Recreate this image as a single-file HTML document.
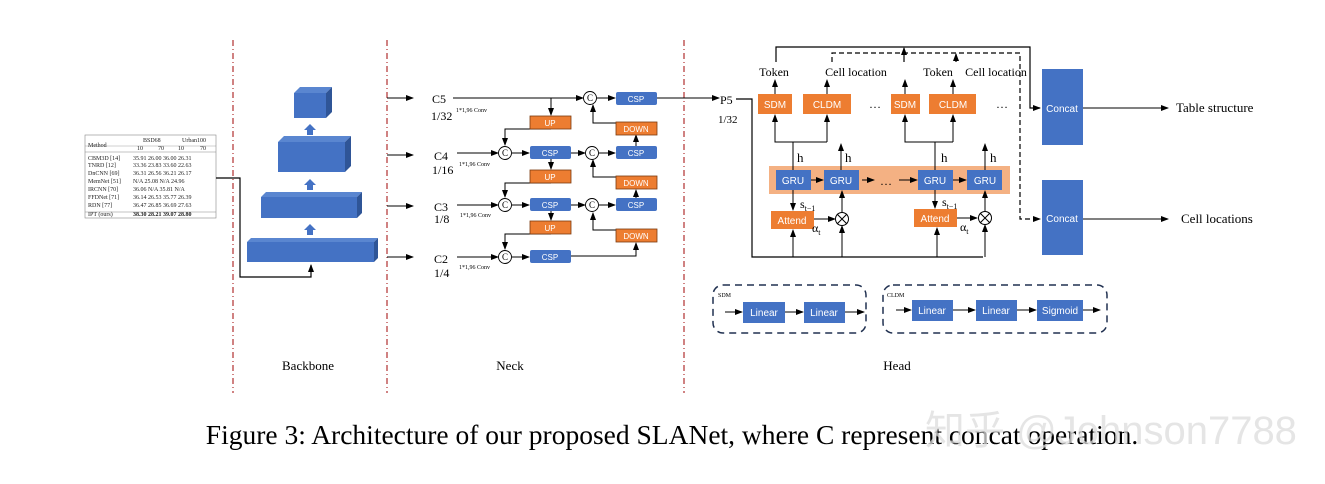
<!DOCTYPE html>
<html><head><meta charset="utf-8"><style>
body{margin:0;background:#fff;}
svg{display:block;font-family:"Liberation Serif","DejaVu Serif",serif;}
.w{fill:#fff;font-family:"Liberation Sans",sans-serif;}
</style></head><body>
<svg width="1325" height="484" viewBox="0 0 1325 484" xmlns="http://www.w3.org/2000/svg">
<defs>
<marker id="a" markerWidth="8" markerHeight="8" refX="7" refY="4" orient="auto" markerUnits="userSpaceOnUse"><path d="M0,1 L8,4 L0,7 z" fill="#000"/></marker>
</defs>
<g stroke="#b03030" stroke-width="1.2" stroke-dasharray="6,3,1,3">
<line x1="233" y1="40" x2="233" y2="393"/><line x1="387" y1="40" x2="387" y2="393"/><line x1="684" y1="40" x2="684" y2="393"/>
</g>
<!-- table -->
<g font-size="6" fill="#222">
<rect x="85" y="135" width="131" height="83" fill="#fff" stroke="#888" stroke-width="0.6"/>
<line x1="85" y1="146" x2="216" y2="146" stroke="#888" stroke-width="0.4"/>
<line x1="85" y1="152" x2="216" y2="152" stroke="#888" stroke-width="0.6"/>
<line x1="85" y1="212" x2="216" y2="212" stroke="#888" stroke-width="0.6"/>
<text x="88" y="147">Method</text><text x="143" y="142">BSD68</text><text x="182" y="142">Urban100</text>
<text x="137" y="150">10</text><text x="158" y="150">70</text><text x="178" y="150">10</text><text x="200" y="150">70</text>
<text x="88" y="160">CBM3D [14]</text><text x="133" y="160">35.91  26.00  36.00  26.31</text>
<text x="88" y="167">TNRD [12]</text><text x="133" y="167">33.36  23.83  33.60  22.63</text>
<text x="88" y="175">DnCNN [69]</text><text x="133" y="175">36.31  26.56  36.21  26.17</text>
<text x="88" y="183">MemNet [51]</text><text x="133" y="183">N/A    25.08  N/A    24.96</text>
<text x="88" y="191">IRCNN [70]</text><text x="133" y="191">36.06  N/A    35.81  N/A</text>
<text x="88" y="199">FFDNet [71]</text><text x="133" y="199">36.14  26.53  35.77  26.39</text>
<text x="88" y="207">RDN [77]</text><text x="133" y="207">36.47  26.85  36.69  27.63</text>
<text x="88" y="216">IPT (ours)</text><text x="133" y="216" font-weight="bold">38.30  28.21  39.07  28.80</text>
</g>
<path d="M216,178 H240 V277 H311 V265" fill="none" stroke="#000" stroke-width="1.2" marker-end="url(#a)"/>
<!-- backbone -->
<g fill="#4472C4">
<path d="M247,242 l4,-4 h127 l-4,4z" fill="#5a86d0"/><path d="M374,242 l4,-4 v20 l-4,4z" fill="#2f5597"/><rect x="247" y="242" width="127" height="20"/>
<path d="M261,197 l5,-5 h96 l-5,5z" fill="#5a86d0"/><path d="M357,197 l5,-5 v21 l-5,5z" fill="#2f5597"/><rect x="261" y="197" width="96" height="21"/>
<path d="M278,142 l6,-6 h67 l-6,6z" fill="#5a86d0"/><path d="M345,142 l6,-6 v30 l-6,6z" fill="#2f5597"/><rect x="278" y="142" width="67" height="30"/>
<path d="M294,93 l6,-6 h32 l-6,6z" fill="#5a86d0"/><path d="M326,93 l6,-6 v25 l-6,6z" fill="#2f5597"/><rect x="294" y="93" width="32" height="25"/>
<path d="M304,130 l6,-6 l6,6 h-3 v5 h-6 v-5z"/><path d="M304,185 l6,-6 l6,6 h-3 v5 h-6 v-5z"/><path d="M304,230 l6,-6 l6,6 h-3 v5 h-6 v-5z"/>
</g>
<!-- neck -->
<g stroke="#000" stroke-width="1" fill="none" marker-end="url(#a)">
<line x1="387" y1="98" x2="413" y2="98"/><line x1="387" y1="155" x2="413" y2="155"/><line x1="387" y1="206" x2="413" y2="206"/><line x1="387" y1="257" x2="413" y2="257"/>
<line x1="453" y1="98" x2="583" y2="98"/><path d="M551,98 V115"/>
<path d="M551,129 H505 V145"/><line x1="457" y1="153" x2="498" y2="153"/><line x1="512" y1="153" x2="529" y2="153"/><line x1="571" y1="153" x2="585" y2="153"/><line x1="599" y1="153" x2="615" y2="153"/>
<path d="M551,159 V169"/><path d="M551,183 H505 V197"/><line x1="457" y1="205" x2="498" y2="205"/><line x1="512" y1="205" x2="529" y2="205"/><line x1="571" y1="205" x2="585" y2="205"/><line x1="599" y1="205" x2="615" y2="205"/>
<path d="M551,211 V220"/><path d="M551,234 H505 V249"/><line x1="457" y1="257" x2="498" y2="257"/><line x1="512" y1="257" x2="529" y2="257"/>
<path d="M571,256 H636 V243"/><path d="M636,198 V190"/><path d="M636,146 V135"/>
<path d="M616,230 H593 V213"/><path d="M616,177 H593 V160"/><path d="M616,123 H593 V105"/>
<line x1="597" y1="98" x2="615" y2="98"/><line x1="657" y1="98" x2="719" y2="98"/>
</g>
<g fill="none" stroke="#000" stroke-width="0.9"><circle cx="590" cy="98" r="6.5"/><circle cx="505" cy="153" r="6.5"/><circle cx="592" cy="153" r="6.5"/><circle cx="505" cy="205" r="6.5"/><circle cx="592" cy="205" r="6.5"/><circle cx="505" cy="257" r="6.5"/></g>
<g font-size="9" text-anchor="middle"><text x="590" y="101">C</text><text x="505" y="156">C</text><text x="592" y="156">C</text><text x="505" y="208">C</text><text x="592" y="208">C</text><text x="505" y="260">C</text></g>
<g fill="#4472C4"><rect x="616" y="92" width="41" height="13" rx="2"/><rect x="530" y="146" width="41" height="13" rx="2"/><rect x="616" y="146" width="41" height="13" rx="2"/><rect x="530" y="198" width="41" height="13" rx="2"/><rect x="616" y="198" width="41" height="13" rx="2"/><rect x="530" y="250" width="41" height="13" rx="2"/></g>
<g fill="#ED7D31" stroke="#7a3a10" stroke-width="0.8"><rect x="530" y="116" width="41" height="13"/><rect x="530" y="170" width="41" height="13"/><rect x="530" y="221" width="41" height="13"/><rect x="616" y="122" width="41" height="13"/><rect x="616" y="176" width="41" height="13"/><rect x="616" y="229" width="41" height="13"/></g>
<g class="w" font-size="8" text-anchor="middle">
<text x="636" y="102">CSP</text><text x="550" y="156">CSP</text><text x="636" y="156">CSP</text><text x="550" y="208">CSP</text><text x="636" y="208">CSP</text><text x="550" y="260">CSP</text>
<text x="550" y="126">UP</text><text x="550" y="180">UP</text><text x="550" y="231">UP</text><text x="636" y="132">DOWN</text><text x="636" y="186">DOWN</text><text x="636" y="239">DOWN</text>
</g>
<g font-size="12"><text x="432" y="103">C5</text><text x="431" y="120">1/32</text><text x="434" y="160">C4</text><text x="432" y="174">1/16</text><text x="434" y="211">C3</text><text x="434" y="223">1/8</text><text x="434" y="263">C2</text><text x="434" y="277">1/4</text>
<text x="720" y="104">P5</text><text x="718" y="123" font-size="11">1/32</text></g>
<g font-size="6"><text x="456" y="112">1*1,96 Conv</text><text x="459" y="166">1*1,96 Conv</text><text x="460" y="217">1*1,96 Conv</text><text x="459" y="269">1*1,96 Conv</text></g>
<!-- head -->
<rect x="769" y="166" width="241" height="28" fill="#F4B183"/>
<g stroke="#000" stroke-width="1.2" fill="none">
<path d="M736,99 H752 V257 H983"/>
<path d="M776,62 V47 H1030 V108 H1040" marker-end="url(#a)"/>
<path d="M832,62 V53 H1020 V219 H1040" stroke-dasharray="5,3" marker-end="url(#a)"/>
<line x1="904" y1="62" x2="904" y2="48" marker-end="url(#a)"/>
<line x1="956" y1="62" x2="956" y2="54" marker-end="url(#a)"/>
</g>
<g stroke="#000" stroke-width="1" fill="none" marker-end="url(#a)">
<line x1="775" y1="94" x2="775" y2="80"/><line x1="827" y1="94" x2="827" y2="80"/><line x1="905" y1="94" x2="905" y2="80"/><line x1="953" y1="94" x2="953" y2="80"/>
<path d="M793,170 V142 H775 V115" /><path d="M827,142 V115"/><line x1="793" y1="142" x2="827" y2="142" marker-end="none"/>
<path d="M935,170 V142 H905 V115"/><path d="M953,142 V115"/><line x1="935" y1="142" x2="953" y2="142" marker-end="none"/>
<line x1="841" y1="170" x2="841" y2="144"/><line x1="985" y1="170" x2="985" y2="144"/>
<line x1="811" y1="180" x2="823" y2="180"/><line x1="862" y1="180" x2="874" y2="180"/><line x1="899" y1="180" x2="917" y2="180"/><line x1="953" y1="180" x2="966" y2="180"/>
<line x1="793" y1="190" x2="793" y2="210"/><line x1="935" y1="190" x2="935" y2="208"/>
<line x1="814" y1="219" x2="835" y2="219"/><line x1="957" y1="218" x2="977" y2="218"/>
<line x1="842" y1="212" x2="842" y2="191"/><line x1="985" y1="211" x2="985" y2="191"/>
<line x1="793" y1="257" x2="793" y2="230"/><line x1="842" y1="257" x2="842" y2="226"/><line x1="937" y1="257" x2="937" y2="228"/><line x1="985" y1="257" x2="985" y2="225"/>
<line x1="1083" y1="108" x2="1168" y2="108"/><line x1="1083" y1="219" x2="1168" y2="219"/>
</g>
<g fill="none" stroke="#000" stroke-width="1"><circle cx="842" cy="219" r="6.5"/><circle cx="985" cy="218" r="6.5"/>
<path d="M837,214 l10,10 M847,214 l-10,10 M980,213 l10,10 M990,213 l-10,10"/></g>
<g fill="#ED7D31"><rect x="758" y="94" width="34" height="20"/><rect x="803" y="94" width="48" height="20"/><rect x="891" y="94" width="29" height="20"/><rect x="929" y="94" width="47" height="20"/><rect x="771" y="211" width="43" height="18"/><rect x="914" y="209" width="43" height="18"/></g>
<g fill="#4472C4"><rect x="776" y="170" width="35" height="20"/><rect x="824" y="170" width="35" height="20"/><rect x="918" y="170" width="35" height="20"/><rect x="967" y="170" width="35" height="20"/><rect x="1042" y="69" width="41" height="76"/><rect x="1042" y="180" width="41" height="75"/></g>
<g class="w" font-size="10" text-anchor="middle">
<text x="775" y="108">SDM</text><text x="827" y="108">CLDM</text><text x="905" y="108">SDM</text><text x="953" y="108">CLDM</text>
<text x="793" y="184">GRU</text><text x="841" y="184">GRU</text><text x="935" y="184">GRU</text><text x="985" y="184">GRU</text>
<text x="792" y="224">Attend</text><text x="935" y="222">Attend</text>
<text x="1062" y="112">Concat</text><text x="1062" y="222">Concat</text>
</g>
<g font-size="12"><text x="774" y="76" text-anchor="middle">Token</text><text x="856" y="76" text-anchor="middle">Cell location</text><text x="938" y="76" text-anchor="middle">Token</text><text x="996" y="76" text-anchor="middle">Cell location</text>
<text x="869" y="108">…</text><text x="996" y="108">…</text><text x="880" y="185">…</text>
<text x="797" y="162" font-size="13">h</text><text x="845" y="162" font-size="13">h</text><text x="941" y="162" font-size="13">h</text><text x="990" y="162" font-size="13">h</text>
<text x="800" y="208">s<tspan font-size="8" dy="3">t−1</tspan></text><text x="942" y="206">s<tspan font-size="8" dy="3">t−1</tspan></text>
<text x="812" y="232">α<tspan font-size="8" dy="3">t</tspan></text><text x="960" y="231">α<tspan font-size="8" dy="3">t</tspan></text>
<text x="1176" y="112" font-size="13">Table structure</text><text x="1181" y="223" font-size="13">Cell locations</text></g>
<!-- modules -->
<g fill="none" stroke="#203050" stroke-width="1.5" stroke-dasharray="7,5"><rect x="713" y="285" width="153" height="48" rx="10"/><rect x="883" y="285" width="224" height="48" rx="10"/></g>
<g fill="#4472C4"><rect x="743" y="302" width="42" height="21"/><rect x="804" y="302" width="41" height="21"/><rect x="912" y="300" width="41" height="21"/><rect x="976" y="300" width="41" height="21"/><rect x="1037" y="300" width="46" height="21"/></g>
<g class="w" font-size="10" text-anchor="middle"><text x="764" y="316">Linear</text><text x="824" y="316">Linear</text><text x="932" y="314">Linear</text><text x="996" y="314">Linear</text><text x="1060" y="314">Sigmoid</text></g>
<g stroke="#000" stroke-width="1" marker-end="url(#a)"><line x1="725" y1="312" x2="742" y2="312"/><line x1="785" y1="312" x2="803" y2="312"/><line x1="845" y1="312" x2="864" y2="312"/><line x1="896" y1="310" x2="911" y2="310"/><line x1="953" y1="310" x2="975" y2="310"/><line x1="1017" y1="310" x2="1036" y2="310"/><line x1="1083" y1="310" x2="1100" y2="310"/></g>
<g font-size="6"><text x="718" y="297">SDM</text><text x="887" y="297">CLDM</text></g>
<g font-size="13" text-anchor="middle"><text x="308" y="370">Backbone</text><text x="510" y="370">Neck</text><text x="897" y="370">Head</text></g>
<text x="672" y="444" font-size="27.5" text-anchor="middle">Figure 3: Architecture of our proposed SLANet, where C represent concat operation.</text>
<text x="925" y="444" font-size="40" fill="#dcdcdc" fill-opacity="0.75" font-family="'Liberation Sans','Noto Sans CJK SC',sans-serif">知乎 @Johnson7788</text>
</svg>
</body></html>
